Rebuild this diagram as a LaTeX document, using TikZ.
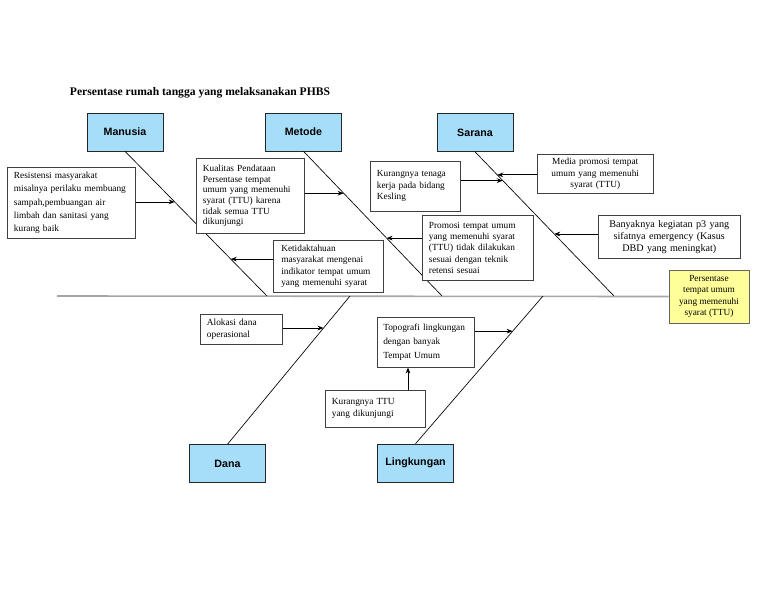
\documentclass[tikz,border=0pt]{standalone}
\usepackage{fontspec}
\setmainfont{Liberation Serif}
\setsansfont{Liberation Sans}
\usepackage{xcolor}
\usetikzlibrary{arrows.meta,calc}
\definecolor{birumuda}{RGB}{166,222,250}
\definecolor{kuningmuda}{RGB}{255,255,153}

\begin{document}
\begin{tikzpicture}[x=0.75pt,y=-0.75pt,
    kategori/.style={draw=black!85, fill=birumuda, font=\sffamily\bfseries\fontsize{8}{9}\selectfont,
        minimum width=57pt, minimum height=28.5pt, inner sep=0pt},
    sebab/.style={draw=black!75, fill=white, font=\fontsize{7}{8.5}\selectfont, align=left,
        anchor=north west, inner xsep=5pt, inner ysep=2pt},
    tulang/.style={line width=0.5pt},
    panah/.style={-{Stealth[length=4.5pt,width=3.5pt]}, line width=0.6pt}]

        \useasboundingbox (0,0) rectangle (768,594);

        % Judul
        \node[font=\bfseries\fontsize{8.7}{10}\selectfont] (judul) at (200,93)
            {Persentase rumah tangga yang melaksanakan PHBS};

        % Kategori
        \node[kategori] (manusia) at (125,132) {Manusia};
        \node[kategori] (metode) at (303.5,132) {Metode};
        \node[kategori] (sarana) at (475,132.5) {Sarana};
        \node[kategori] (dana) at (227.5,463.5) {Dana};
        \node[kategori] (lingkungan) at (415.5,463) {Lingkungan};

        % Akibat
        \node[draw=black!60, fill=kuningmuda, align=center, font=\fontsize{7}{8.6}\selectfont,
            minimum width=60pt, minimum height=39.75pt, inner sep=1pt] (hasil) at (709,296.5)
            {Persentase\\tempat umum\\yang memenuhi\\syarat (TTU)};

        % Tulang utama
        \coordinate (ekor) at (57,296);
        \draw[line width=1.2pt, gray!70] (ekor) -- (hasil.west);

        % Tulang kategori
        \coordinate (tMan) at (267,296);
        \coordinate (tMet) at (442,296);
        \coordinate (tSar) at (614,296);
        \coordinate (tDana) at (350,296);
        \coordinate (tLing) at (543,296);
        \draw[tulang] (manusia.south) -- (tMan);
        \draw[tulang] (metode.south) -- (tMet);
        \draw[tulang] (sarana.south) -- (tSar);
        \draw[tulang] (dana.north) -- (tDana);
        \draw[tulang] (lingkungan.north) -- (tLing);

        % Penyebab
        \node[sebab, font=\fontsize{7}{10}\selectfont, text width=86pt, minimum height=53.25pt] (resistensi) at (7,167)
            {Resistensi masyarakat\\misalnya perilaku membuang\\sampah,pembuangan air\\limbah dan sanitasi yang\\kurang baik};
        \node[sebab, font=\fontsize{7}{8}\selectfont, text width=71pt, minimum height=56.25pt] (kualitas) at (196,158)
            {Kualitas Pendataan\\Persentase tempat\\umum yang memenuhi\\syarat (TTU) karena\\tidak semua TTU\\dikunjungi};
        \node[sebab, inner xsep=6pt, text width=70.5pt, minimum height=39pt] (ketidaktahuan) at (273,240)
            {Ketidaktahuan\\masyarakat mengenai\\indikator tempat umum\\yang memenuhi syarat};
        \node[sebab, text width=57.5pt, minimum height=37.5pt] (tenaga) at (370,161)
            {Kurangnya tenaga\\kerja pada bidang\\Kesling};
        \node[sebab, align=center, text width=77pt, minimum height=29.25pt] (media) at (537,154)
            {Media promosi tempat\\umum yang memenuhi\\syarat (TTU)};
        \node[sebab, text width=73.25pt, minimum height=48.75pt] (promosi) at (422,215)
            {Promosi tempat umum\\yang memenuhi syarat\\(TTU) tidak dilakukan\\sesuai dengan teknik\\retensi sesuai};
        \node[sebab, align=center, font=\fontsize{7.6}{9}\selectfont, text width=96.5pt, minimum height=32.25pt] (kegiatan) at (598,215)
            {Banyaknya kegiatan p3 yang\\sifatnya emergency (Kasus\\DBD yang meningkat)};
        \node[sebab, text width=51.5pt, minimum height=22.5pt] (alokasi) at (200,314)
            {Alokasi dana\\operasional};
        \node[sebab, font=\fontsize{7}{10.5}\selectfont, inner xsep=4.5pt, text width=63.75pt, minimum height=37.5pt] (topografi) at (377,317)
            {Topografi lingkungan\\dengan banyak\\Tempat Umum};
        \node[sebab, font=\fontsize{7}{9}\selectfont, text width=65pt, minimum height=27.75pt] (kurangttu) at (325,390)
            {Kurangnya TTU\\yang dikunjungi};

        % Panah ke tulang
        \coordinate (k1) at ($(manusia.south)!0.35!(tMan)$);
        \coordinate (k3) at ($(manusia.south)!0.745!(tMan)$);
        \coordinate (k2) at ($(metode.south)!0.29!(tMet)$);
        \coordinate (k6) at ($(metode.south)!0.60!(tMet)$);
        \coordinate (k4) at ($(sarana.south)!0.20!(tSar)$);
        \coordinate (k5) at ($(sarana.south)!0.16!(tSar)$);
        \coordinate (k7) at ($(sarana.south)!0.57!(tSar)$);
        \coordinate (k8) at ($(dana.north)!0.784!(tDana)$);
        \coordinate (k9) at ($(lingkungan.north)!0.762!(tLing)$);
        \coordinate (k10) at (408,380);

        \draw[panah] (resistensi.east |- k1) -- (k1);
        \draw[panah] (kualitas.east |- k2) -- (k2);
        \draw[panah] (ketidaktahuan.west |- k3) -- (k3);
        \draw[panah] (tenaga.east |- k4) -- (k4);
        \draw[panah] (media.west |- k5) -- (k5);
        \draw[panah] (promosi.west |- k6) -- (k6);
        \draw[panah] (kegiatan.west |- k7) -- (k7);
        \draw[panah] (alokasi.east |- k8) -- (k8);
        \draw[panah] (topografi.east |- k9) -- (k9);
        \draw[panah] (kurangttu.north -| k10) -- (topografi.south -| k10);
    \end{tikzpicture}
\end{document}
